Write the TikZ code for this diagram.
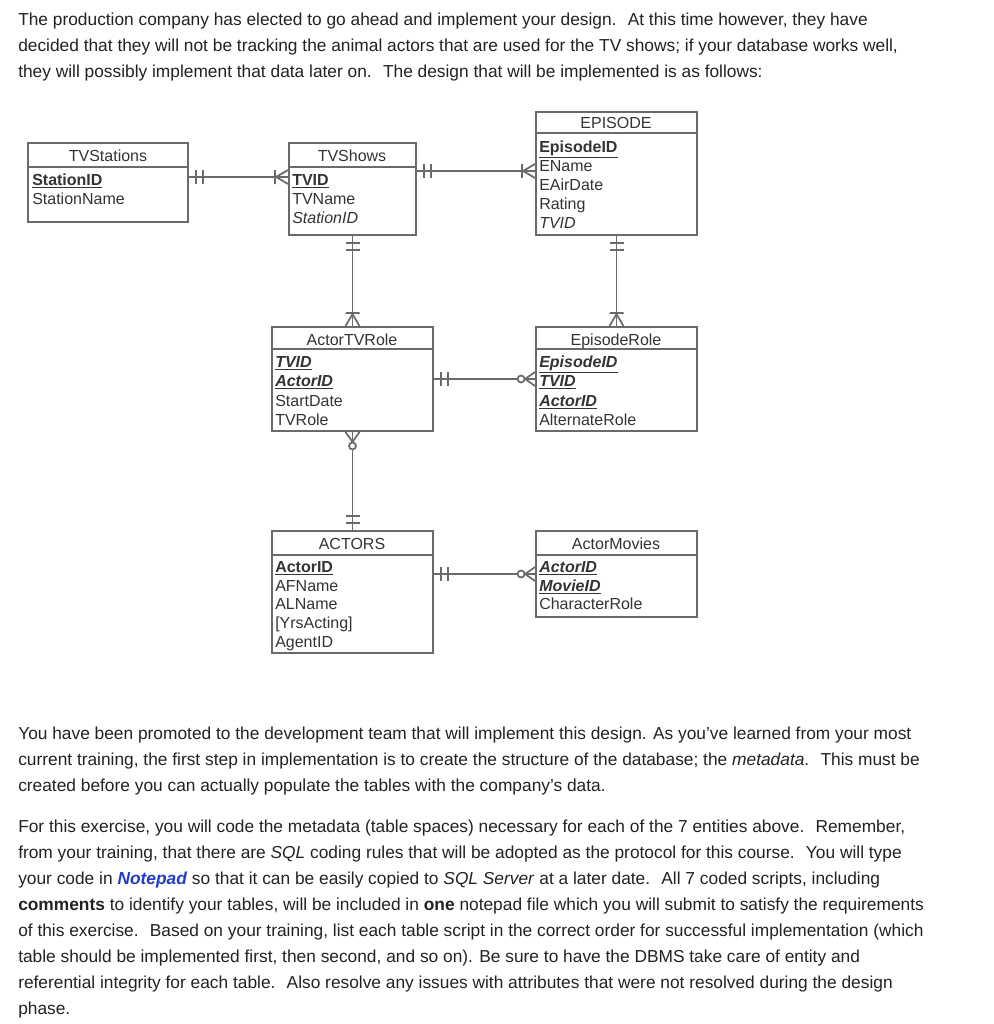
\documentclass[tikz,border=0pt]{standalone}
\usepackage{fontspec}
\setmainfont{Liberation Sans}
\usepackage{xcolor}
\usetikzlibrary{positioning,fit}
\definecolor{boxgray}{HTML}{6A6A6A}
\definecolor{txtgray}{HTML}{333333}
\definecolor{paratext}{HTML}{222222}
\definecolor{linkblue}{HTML}{1F3CC8}
\newcommand{\pkey}[1]{\underline{\textbf{#1}}}
\newcommand{\pfkey}[1]{\underline{\textbf{\textit{#1}}}}
\begin{document}
\begin{tikzpicture}[x=0.75pt,y=-0.75pt,
  entity/.style={draw=boxgray, line width=1.4pt, inner sep=0pt},
  sepline/.style={draw=boxgray, line width=2pt},
  title/.style={font=\fontsize{12}{14}\selectfont, text=txtgray, anchor=base, inner sep=0pt},
  attr/.style={font=\fontsize{12}{14}\selectfont, text=txtgray, anchor=base west, inner sep=0pt},
  para/.style={font=\fontsize{13}{15}\selectfont, text=paratext, anchor=base west, inner sep=0pt},
  link/.style={draw=boxgray, line width=1.3pt},
  mandone/.pic={\draw[link] (7,-7) -- (7,7) (14,-7) -- (14,7);},
  onemany/.pic={\draw[link] (0,-7) -- (12,0) -- (0,7) (13,-7) -- (13,7);},
  zeromany/.pic={\draw[link] (0,-7) -- (10,0) -- (0,7); \draw[link, fill=white] (14,0) circle (3.5);}]
\useasboundingbox (0,0) rectangle (993,1024);

% text above the diagram
\node[para] (intro1) at (18,26) {The production company has elected to go ahead and implement your design.~ At this time however, they have};
\node[para] (intro2) at (18,52) {decided that they will not be tracking the animal actors that are used for the TV shows; if your database works well,};
\node[para] (intro3) at (18,78) {they will possibly implement that data later on.~ The design that will be implemented is as follows:};

% entities
\node[entity, fit={(28,143) (188,222)}] (stations) {};
\draw[sepline] (stations.west |- 0,167) -- (stations.east |- 0,167);
\node[title] (stations-t) at (108,161) {TVStations};
\node[attr] (stations-a1) at (32,185) {\pkey{StationID}};
\node[attr] (stations-a2) at (32,204) {StationName};

\node[entity, fit={(289,143) (416,235)}] (shows) {};
\draw[sepline] (shows.west |- 0,167) -- (shows.east |- 0,167);
\node[title] (shows-t) at (352,161) {TVShows};
\node[attr] (shows-a1) at (292,185) {\pkey{TVID}};
\node[attr] (shows-a2) at (292,204) {TVName};
\node[attr] (shows-a3) at (292,223) {\textit{StationID}};

\node[entity, fit={(536,112) (697,235)}] (episode) {};
\draw[sepline] (episode.west |- 0,133) -- (episode.east |- 0,133);
\node[title] (episode-t) at (616,128) {EPISODE};
\node[attr] (episode-a1) at (539,152) {\pkey{EpisodeID}};
\node[attr] (episode-a2) at (539,171) {EName};
\node[attr] (episode-a3) at (539,190) {EAirDate};
\node[attr] (episode-a4) at (539,209) {Rating};
\node[attr] (episode-a5) at (539,228) {\textit{TVID}};

\node[entity, fit={(272,327) (433,431)}] (actorrole) {};
\draw[sepline] (actorrole.west |- 0,349) -- (actorrole.east |- 0,349);
\node[title] (actorrole-t) at (352,345) {ActorTVRole};
\node[attr] (actorrole-a1) at (275,367) {\pfkey{TVID}};
\node[attr] (actorrole-a2) at (275,386) {\pfkey{ActorID}};
\node[attr] (actorrole-a3) at (275,406) {StartDate};
\node[attr] (actorrole-a4) at (275,425) {TVRole};

\node[entity, fit={(536,327) (697,431)}] (epirole) {};
\draw[sepline] (epirole.west |- 0,349) -- (epirole.east |- 0,349);
\node[title] (epirole-t) at (616,345) {EpisodeRole};
\node[attr] (epirole-a1) at (539,367) {\pfkey{EpisodeID}};
\node[attr] (epirole-a2) at (539,386) {\pfkey{TVID}};
\node[attr] (epirole-a3) at (539,406) {\pfkey{ActorID}};
\node[attr] (epirole-a4) at (539,425) {AlternateRole};

\node[entity, fit={(272,531) (433,653)}] (actors) {};
\draw[sepline] (actors.west |- 0,555) -- (actors.east |- 0,555);
\node[title] (actors-t) at (352,549) {ACTORS};
\node[attr] (actors-a1) at (275,572) {\pkey{ActorID}};
\node[attr] (actors-a2) at (275,591) {AFName};
\node[attr] (actors-a3) at (275,609) {ALName};
\node[attr] (actors-a4) at (275,628) {[YrsActing]};
\node[attr] (actors-a5) at (275,647) {AgentID};

\node[entity, fit={(536,531) (697,617)}] (movies) {};
\draw[sepline] (movies.west |- 0,555) -- (movies.east |- 0,555);
\node[title] (movies-t) at (616,549) {ActorMovies};
\node[attr] (movies-a1) at (539,572) {\pfkey{ActorID}};
\node[attr] (movies-a2) at (539,591) {\pfkey{MovieID}};
\node[attr] (movies-a3) at (539,609) {CharacterRole};

% relationships
\draw[link] (stations.east |- 0,177) -- (shows.west |- 0,177);
\pic at (stations.east |- 0,177) {mandone};
\pic[rotate=180] at (shows.west |- 0,177) {onemany};

\draw[link] (shows.east |- 0,171) -- (episode.west |- 0,171);
\pic at (shows.east |- 0,171) {mandone};
\pic[rotate=180] at (episode.west |- 0,171) {onemany};

\draw[link] (shows.south) -- (shows.south |- actorrole.north);
\pic[rotate=-90] at (shows.south) {mandone};
\pic[rotate=90] at (shows.south |- actorrole.north) {onemany};

\draw[link] (episode.south) -- (epirole.north);
\pic[rotate=-90] at (episode.south) {mandone};
\pic[rotate=90] at (epirole.north) {onemany};

\draw[link] (actorrole.east |- 0,379) -- (epirole.west |- 0,379);
\pic at (actorrole.east |- 0,379) {mandone};
\pic[rotate=180] at (epirole.west |- 0,379) {zeromany};

\draw[link] (actorrole.south) -- (actors.north);
\pic[rotate=-90] at (actorrole.south) {zeromany};
\pic[rotate=90] at (actors.north) {mandone};

\draw[link] (actors.east |- 0,574) -- (movies.west |- 0,574);
\pic at (actors.east |- 0,574) {mandone};
\pic[rotate=180] at (movies.west |- 0,574) {zeromany};

% text below the diagram
\node[para] (task1) at (18,739) {You have been promoted to the development team that will implement this design. As you’ve learned from your most};
\node[para] (task2) at (18,765) {current training, the first step in implementation is to create the structure of the database; the \textit{metadata}.~ This must be};
\node[para] (task3) at (18,791) {created before you can actually populate the tables with the company’s data.};

\node[para] (rule1) at (18,832) {For this exercise, you will code the metadata (table spaces) necessary for each of the 7 entities above.~ Remember,};
\node[para] (rule2) at (18,858) {from your training, that there are \textit{SQL} coding rules that will be adopted as the protocol for this course.~ You will type};
\node[para] (rule3) at (18,884) {your code in \textcolor{linkblue}{\textbf{\textit{Notepad}}} so that it can be easily copied to \textit{SQL Server} at a later date.~ All 7 coded scripts, including};
\node[para] (rule4) at (18,910) {\textbf{comments} to identify your tables, will be included in \textbf{one} notepad file which you will submit to satisfy the requirements};
\node[para] (rule5) at (18,936) {of this exercise.~ Based on your training, list each table script in the correct order for successful implementation (which};
\node[para] (rule6) at (18,962) {table should be implemented first, then second, and so on). Be sure to have the DBMS take care of entity and};
\node[para] (rule7) at (18,988) {referential integrity for each table.~ Also resolve any issues with attributes that were not resolved during the design};
\node[para] (rule8) at (18,1014) {phase.};
\end{tikzpicture}
\end{document}
